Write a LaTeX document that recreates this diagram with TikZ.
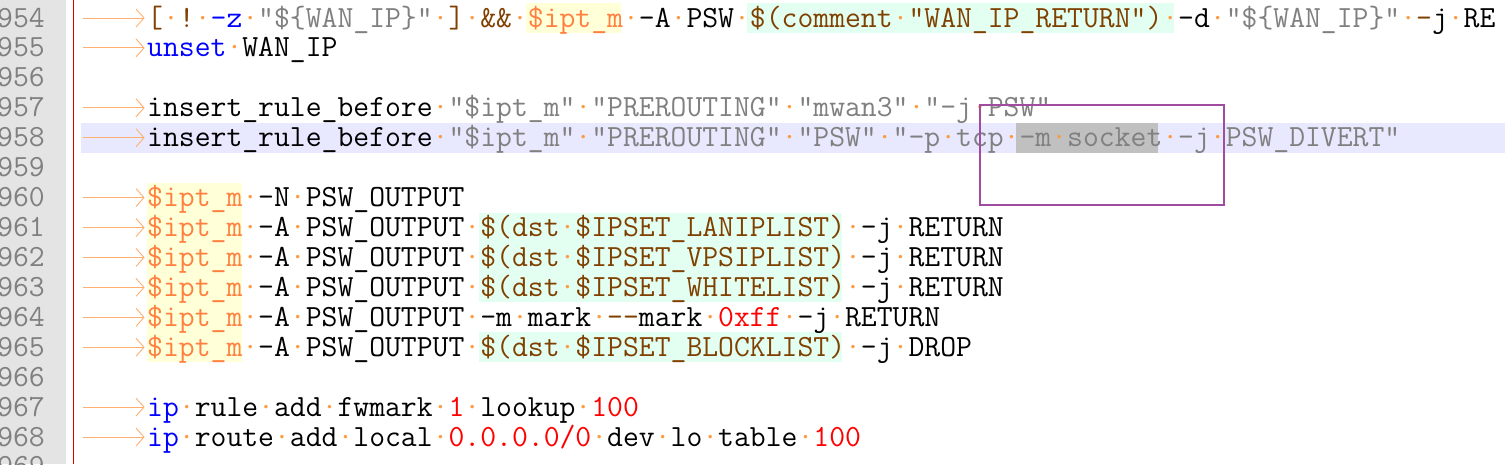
\documentclass[tikz,border=0pt]{standalone}
\usetikzlibrary{calc}
\usepackage{xcolor}
\definecolor{br}{HTML}{804000}
\definecolor{gr}{HTML}{808080}
\definecolor{orc}{HTML}{FF8040}
\definecolor{blc}{HTML}{0000FF}
\definecolor{rdc}{HTML}{FF0000}
\definecolor{dotc}{HTML}{FF9A40}
\definecolor{tabc}{HTML}{FFB070}
\definecolor{yelbg}{HTML}{FFFFD8}
\definecolor{mintbg}{HTML}{E3FFF2}
\definecolor{selbg}{HTML}{C0C0C0}
\definecolor{hlbg}{HTML}{E8E8FF}
\definecolor{gutbg}{HTML}{E4E4E4}
\definecolor{boxc}{HTML}{A04CA0}
\newcommand\spd{\textcolor{dotc}{\char"B7}}
\newcommand\cc[2]{\textcolor{#1}{#2}}
\newcommand\rowy[1]{-(18+#1*29.93)}
\newcommand\bgc[4]{\fill[#4] ({147+#2*15.8},{\rowy{#1}+15}) rectangle ({147+(#3+1)*15.8},{\rowy{#1}-15});}
\tikzset{code/.style={anchor=base west,inner sep=0pt,font=\ttfamily\fontsize{30.8}{30}\selectfont},
 lnum/.style={anchor=base east,inner sep=0pt,text=gr,font=\ttfamily\fontsize{30.8}{30}\selectfont},
 tabarrow/.style={draw=tabc,line width=0.9pt}}
\begin{document}
\begin{tikzpicture}[x=1pt,y=1pt]
\useasboundingbox (0,0) rectangle (1505,-464);
\clip (0,0) rectangle (1505,-464);
\fill[white] (0,0) rectangle (1505,-464);
\fill[gutbg] (0,0) rectangle (66,-464);
\draw[red!85!black,line width=0.7pt] (73,0) -- (73,-464);
% highlight current line
\fill[hlbg] (81,{\rowy{4}+15}) rectangle (1505,{\rowy{4}-15});
% backgrounds
\bgc{0}{24}{29}{yelbg}
\bgc{0}{38}{64}{mintbg}
\bgc{4}{55}{63}{selbg}
\foreach \r in {6,...,11}{\bgc{\r}{0}{5}{yelbg}}
\foreach \r in {7,8,9,11}{\bgc{\r}{21}{43}{mintbg}}
% line numbers
\foreach \n [count=\i from 0] in {954,...,969}{
  \node[lnum] (n\n) at (45,{\rowy{\i}-9}) {\n};}
% tab arrows
\foreach \r in {0,1,3,4,6,7,8,9,10,11,13,14}{
  \coordinate (ta\r) at (83,{\rowy{\r}});
  \coordinate (tb\r) at (144,{\rowy{\r}});
  \draw[tabarrow] (ta\r) -- (tb\r);
  \draw[tabarrow] ($(tb\r)+(-8,9)$) -- (tb\r) -- ($(tb\r)+(-8,-9)$);}
% code lines
\node[code] (l954) at (147,{\rowy{0}-9}) {\cc{br}{[}\spd\cc{br}{!}\spd\cc{blc}{-z}\spd\cc{gr}{"\$\{WAN\_IP\}"}\spd\cc{br}{]}\spd\cc{br}{\&\&}\spd\cc{orc}{\$ipt\_m}\spd-A\spd PSW\spd\cc{br}{\$(comment\spd"WAN\_IP\_RETURN")}\spd-d\spd\cc{gr}{"\$\{WAN\_IP\}"}\spd\cc{br}{-}j\spd RE};
\node[code] (l955) at (147,{\rowy{1}-9}) {\cc{blc}{unset}\spd WAN\_IP};
\node[code] (l957) at (147,{\rowy{3}-9}) {insert\_rule\_before\spd\cc{gr}{"\$ipt\_m"}\spd\cc{gr}{"PREROUTING"}\spd\cc{gr}{"mwan3"}\spd\cc{gr}{"-j}\spd\cc{gr}{PSW"}};
\node[code] (l958) at (147,{\rowy{4}-9}) {insert\_rule\_before\spd\cc{gr}{"\$ipt\_m"}\spd\cc{gr}{"PREROUTING"}\spd\cc{gr}{"PSW"}\spd\cc{gr}{"-p}\spd\cc{gr}{tcp}\spd\cc{gr}{-m}\spd\cc{gr}{socket}\spd\cc{gr}{-j}\spd\cc{gr}{PSW\_DIVERT"}};
\node[code] (l960) at (147,{\rowy{6}-9}) {\cc{orc}{\$ipt\_m}\spd-N\spd PSW\_OUTPUT};
\node[code] (l961) at (147,{\rowy{7}-9}) {\cc{orc}{\$ipt\_m}\spd-A\spd PSW\_OUTPUT\spd\cc{br}{\$(dst\spd\$IPSET\_LANIPLIST)}\spd-j\spd RETURN};
\node[code] (l962) at (147,{\rowy{8}-9}) {\cc{orc}{\$ipt\_m}\spd-A\spd PSW\_OUTPUT\spd\cc{br}{\$(dst\spd\$IPSET\_VPSIPLIST)}\spd-j\spd RETURN};
\node[code] (l963) at (147,{\rowy{9}-9}) {\cc{orc}{\$ipt\_m}\spd-A\spd PSW\_OUTPUT\spd\cc{br}{\$(dst\spd\$IPSET\_WHITELIST)}\spd-j\spd RETURN};
\node[code] (l964) at (147,{\rowy{10}-9}) {\cc{orc}{\$ipt\_m}\spd-A\spd PSW\_OUTPUT\spd-m\spd mark\spd\cc{br}{-{}-}mark\spd\cc{rdc}{0xff}\spd-j\spd RETURN};
\node[code] (l965) at (147,{\rowy{11}-9}) {\cc{orc}{\$ipt\_m}\spd-A\spd PSW\_OUTPUT\spd\cc{br}{\$(dst\spd\$IPSET\_BLOCKLIST)}\spd-j\spd DROP};
\node[code] (l967) at (147,{\rowy{13}-9}) {\cc{blc}{ip}\spd rule\spd add\spd fwmark\spd\cc{rdc}{1}\spd lookup\spd\cc{rdc}{100}};
\node[code] (l968) at (147,{\rowy{14}-9}) {\cc{blc}{ip}\spd route\spd add\spd local\spd\cc{rdc}{0.0.0.0/0}\spd dev\spd lo\spd table\spd\cc{rdc}{100}};
% annotation box
\draw[boxc,line width=1.6pt] (980,-105) rectangle (1224,-205);
\end{tikzpicture}
\end{document}
